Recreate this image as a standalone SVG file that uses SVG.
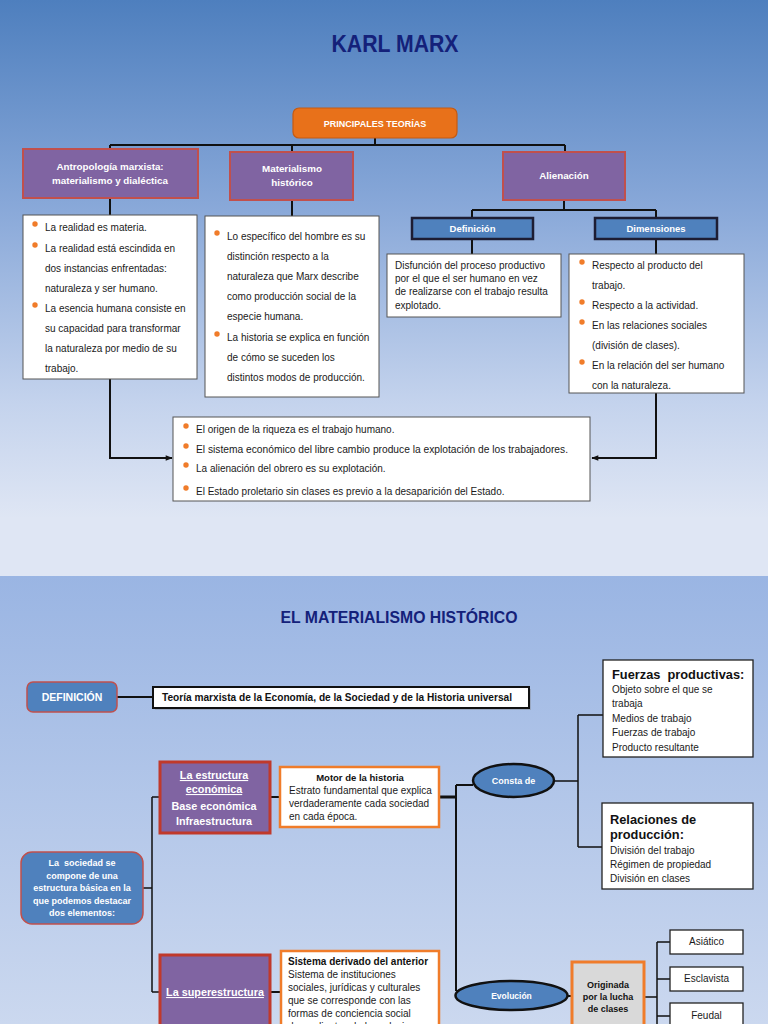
<svg xmlns="http://www.w3.org/2000/svg" width="768" height="1024" viewBox="0 0 768 1024">
<defs>
<linearGradient id="bg1" x1="0" y1="0" x2="0" y2="1">
<stop offset="0" stop-color="#4e7fbe"/>
<stop offset="0.35" stop-color="#87a7d8"/>
<stop offset="0.7" stop-color="#c4d3ed"/>
<stop offset="0.9" stop-color="#dfe6f4"/>
<stop offset="1" stop-color="#dfe6f4"/>
</linearGradient>
<linearGradient id="bg2" x1="0" y1="0" x2="0" y2="1">
<stop offset="0" stop-color="#9ab5e3"/>
<stop offset="1" stop-color="#cbd8ef"/>
</linearGradient>
<marker id="arr" viewBox="0 0 10 10" refX="9" refY="5" markerWidth="8" markerHeight="7" orient="auto" markerUnits="userSpaceOnUse">
<path d="M0,1 L10,5 L0,9 z" fill="#111"/>
</marker>
<style>
text{font-family:"Liberation Sans",Arial,sans-serif;}
.title{font-weight:bold;fill:#14217a;text-anchor:middle;}
.purple{fill:#8064a2;stroke:#c0504d;stroke-width:2;}
.purple2{fill:#8064a2;stroke:#c0392b;stroke-width:3;}
.tbox{fill:#fff;stroke:#555;stroke-width:1;}
.obox{fill:#fff;stroke:#f07c2a;stroke-width:2.5;}
.kbox{fill:#fff;stroke:#222;stroke-width:1.3;}
.bluebox{fill:#4f81bd;stroke:#1d1d33;stroke-width:2.5;}
.blueround{fill:#4f81bd;stroke:#c0504d;stroke-width:1.5;}
.wb{font-weight:bold;fill:#fff;text-anchor:middle;}
.body{font-size:10px;fill:#1a1a1a;}
.bd{font-weight:bold;fill:#111;}
.bul{fill:#f07c2a;}
.ln{stroke:#111;stroke-width:2;fill:none;}
.lnt{stroke:#111;stroke-width:1.5;fill:none;}
.lnk{stroke:#111;stroke-width:3;fill:none;}
</style>
</defs>

<!-- backgrounds -->
<rect x="0" y="0" width="768" height="576" fill="url(#bg1)"/>
<rect x="0" y="576" width="768" height="448" fill="url(#bg2)"/>

<!-- ============ SLIDE 1 ============ -->
<text class="title" x="395" y="52" font-size="23" textLength="127" lengthAdjust="spacingAndGlyphs">KARL MARX</text>

<g id="connectors1">
<path class="ln" d="M375,138 V145 M110,145 H565 M110,145 V149 M292,145 V152 M565,145 V152"/>
<path class="ln" d="M110,198 V215 M292,200 V216"/>
<path class="ln" d="M564,200 V210 M472,210 H656 M472,210 V218 M656,210 V218"/>
<path class="ln" d="M472,239 V254 M656,239 V254"/>
<path class="ln" d="M110,379 V458 H172" marker-end="url(#arr)"/>
<path class="ln" d="M656,393 V458 H592" marker-end="url(#arr)"/>
</g>

<g id="principales">
<rect x="293" y="108" width="164" height="30" rx="6" fill="#e8711a" stroke="#c55a11" stroke-width="1.2"/>
<text class="wb" x="375" y="127" font-size="9">PRINCIPALES TEORÍAS</text>
</g>

<g id="antropologia">
<rect class="purple" x="23" y="149" width="175" height="49"/>
<text class="wb" x="110" y="170" font-size="9.8">Antropología marxista:</text>
<text class="wb" x="110" y="184" font-size="9.8">materialismo y dialéctica</text>
</g>

<g id="materialismo">
<rect class="purple" x="230" y="152" width="123" height="48"/>
<text class="wb" x="292" y="172" font-size="9.8">Materialismo</text>
<text class="wb" x="292" y="186" font-size="9.8">histórico</text>
</g>

<g id="alienacion">
<rect class="purple" x="503" y="152" width="122" height="48"/>
<text class="wb" x="564" y="179" font-size="9.8">Alienación</text>
</g>

<g id="antropologia-texto">
<rect class="tbox" x="23" y="215" width="174" height="164"/>
<circle class="bul" cx="35" cy="224" r="2.7"/>
<circle class="bul" cx="35" cy="245" r="2.7"/>
<circle class="bul" cx="35" cy="305" r="2.7"/>
<text class="body" x="45" y="231">La realidad es materia.</text>
<text class="body" x="45" y="252">La realidad está escindida en</text>
<text class="body" x="45" y="272">dos instancias enfrentadas:</text>
<text class="body" x="45" y="292">naturaleza y ser humano.</text>
<text class="body" x="45" y="312">La esencia humana consiste en</text>
<text class="body" x="45" y="332">su capacidad para transformar</text>
<text class="body" x="45" y="352">la naturaleza por medio de su</text>
<text class="body" x="45" y="372">trabajo.</text>
</g>

<g id="materialismo-texto">
<rect class="tbox" x="205" y="216" width="174" height="181"/>
<circle class="bul" cx="217" cy="233" r="2.7"/>
<circle class="bul" cx="217" cy="334" r="2.7"/>
<text class="body" x="227" y="240">Lo específico del hombre es su</text>
<text class="body" x="227" y="260">distinción respecto a la</text>
<text class="body" x="227" y="280">naturaleza que Marx describe</text>
<text class="body" x="227" y="300">como producción social de la</text>
<text class="body" x="227" y="320">especie humana.</text>
<text class="body" x="227" y="341">La historia se explica en función</text>
<text class="body" x="227" y="361">de cómo se suceden los</text>
<text class="body" x="227" y="381">distintos modos de producción.</text>
</g>

<g id="definicion">
<rect class="bluebox" x="412" y="218" width="121" height="21"/>
<text class="wb" x="472.5" y="232" font-size="9.5">Definición</text>
</g>

<g id="dimensiones">
<rect class="bluebox" x="595" y="218" width="122" height="21"/>
<text class="wb" x="656" y="232" font-size="9.5">Dimensiones</text>
</g>

<g id="definicion-texto">
<rect class="tbox" x="387" y="254" width="174" height="63"/>
<text class="body" x="395" y="269">Disfunción del proceso productivo</text>
<text class="body" x="395" y="282">por el que el ser humano en vez</text>
<text class="body" x="395" y="295">de realizarse con el trabajo resulta</text>
<text class="body" x="395" y="309">explotado.</text>
</g>

<g id="dimensiones-texto">
<rect class="tbox" x="569" y="254" width="175" height="139"/>
<circle class="bul" cx="582" cy="262" r="2.7"/>
<circle class="bul" cx="582" cy="302" r="2.7"/>
<circle class="bul" cx="582" cy="322" r="2.7"/>
<circle class="bul" cx="582" cy="362" r="2.7"/>
<text class="body" x="592" y="269">Respecto al producto del</text>
<text class="body" x="592" y="289">trabajo.</text>
<text class="body" x="592" y="309">Respecto a la actividad.</text>
<text class="body" x="592" y="329">En las relaciones sociales</text>
<text class="body" x="592" y="349">(división de clases).</text>
<text class="body" x="592" y="369">En la relación del ser humano</text>
<text class="body" x="592" y="389">con la naturaleza.</text>
</g>

<g id="conclusiones">
<rect class="tbox" x="173" y="417" width="417" height="84"/>
<circle class="bul" cx="186" cy="426" r="2.7"/>
<circle class="bul" cx="186" cy="446" r="2.7"/>
<circle class="bul" cx="186" cy="465" r="2.7"/>
<circle class="bul" cx="186" cy="488" r="2.7"/>
<text class="body" x="196" y="433">El origen de la riqueza es el trabajo humano.</text>
<text class="body" x="196" y="453" textLength="372" lengthAdjust="spacingAndGlyphs">El sistema económico del libre cambio produce la explotación de los trabajadores.</text>
<text class="body" x="196" y="472">La alienación del obrero es su explotación.</text>
<text class="body" x="196" y="495">El Estado proletario sin clases es previo a la desaparición del Estado.</text>
</g>

<!-- ============ SLIDE 2 ============ -->
<text class="title" x="399" y="623" font-size="16.5" textLength="237" lengthAdjust="spacingAndGlyphs">EL MATERIALISMO HISTÓRICO</text>

<g id="connectors2">
<path class="ln" d="M117,697 H153"/>
<path class="lnt" d="M143,888 H152 M152,797 V992 M152,797 H160 M152,992 H160"/>
<path class="ln" d="M270,797 H280 M270,992 H281"/>
<path class="lnk" d="M439,797 H457"/>
<path class="ln" d="M456,785 V991 M456,785 H473"/>
<path class="lnt" d="M554,781 H578 M578,715 V847 M578,715 H603 M578,847 H602"/>
<path class="ln" d="M567,996 H572"/>
<path class="lnt" d="M644,997 H657 M657,942 V1024 M657,942 H670 M657,979 H670 M657,1016 H670"/>
</g>

<g id="definicion2">
<rect class="blueround" x="27" y="682" width="90" height="30" rx="6"/>
<text class="wb" x="72" y="701" font-size="10.5">DEFINICIÓN</text>
</g>

<g id="definicion2-texto">
<rect x="155" y="689" width="376" height="21" fill="#7f7f7f" opacity="0.35"/>
<rect x="153" y="687" width="376" height="21" fill="#fff" stroke="#111" stroke-width="2"/>
<text class="bd" x="162" y="701" font-size="10.5" textLength="350" lengthAdjust="spacingAndGlyphs">Teoría marxista de la Economía, de la Sociedad y de la Historia universal</text>
</g>

<g id="sociedad">
<rect class="blueround" x="21" y="852" width="122" height="72" rx="11"/>
<text class="wb" x="82" y="866" font-size="9" xml:space="preserve">La  sociedad se</text>
<text class="wb" x="82" y="879" font-size="9">compone de una</text>
<text class="wb" x="82" y="891" font-size="9">estructura básica en la</text>
<text class="wb" x="82" y="904" font-size="9">que podemos destacar</text>
<text class="wb" x="82" y="916" font-size="9">dos elementos:</text>
</g>

<g id="estructura">
<rect class="purple2" x="160" y="762" width="110" height="71"/>
<text class="wb" x="214" y="779" font-size="10.8" text-decoration="underline">La estructura</text>
<text class="wb" x="214" y="793" font-size="10.8" text-decoration="underline">económica</text>
<text class="wb" x="214" y="810" font-size="10.8">Base económica</text>
<text class="wb" x="214" y="825" font-size="10.8">Infraestructura</text>
</g>

<g id="motor">
<rect class="obox" x="280" y="767" width="159" height="60"/>
<text class="bd" x="360" y="781" font-size="9.5" text-anchor="middle">Motor de la historia</text>
<text class="body" x="289" y="794" font-size="9.8">Estrato fundamental que explica</text>
<text class="body" x="289" y="807" font-size="9.8">verdaderamente cada sociedad</text>
<text class="body" x="289" y="820" font-size="9.8">en cada época.</text>
</g>

<g id="consta">
<ellipse cx="513.5" cy="780.5" rx="40.5" ry="16.5" fill="#4f81bd" stroke="#111" stroke-width="2.5"/>
<text class="wb" x="513.5" y="784" font-size="9">Consta de</text>
</g>

<g id="fuerzas">
<rect class="kbox" x="603" y="660" width="150" height="97"/>
<text class="bd" x="612" y="679" font-size="12.8" xml:space="preserve">Fuerzas  productivas:</text>
<text class="body" x="612" y="693" font-size="10.8">Objeto sobre el que se</text>
<text class="body" x="612" y="707" font-size="10.8">trabaja</text>
<text class="body" x="612" y="722" font-size="10.8">Medios de trabajo</text>
<text class="body" x="612" y="736" font-size="10.8">Fuerzas de trabajo</text>
<text class="body" x="612" y="751" font-size="10.8">Producto resultante</text>
</g>

<g id="relaciones">
<rect class="kbox" x="602" y="803" width="151" height="86"/>
<text class="bd" x="610" y="824" font-size="12.8">Relaciones de</text>
<text class="bd" x="610" y="839" font-size="12.8">producción:</text>
<text class="body" x="610" y="854" font-size="10.8">División del trabajo</text>
<text class="body" x="610" y="868" font-size="10.8">Régimen de propiedad</text>
<text class="body" x="610" y="882" font-size="10.8">División en clases</text>
</g>

<g id="superestructura">
<rect class="purple2" x="160" y="955" width="110" height="80"/>
<text class="wb" x="215" y="996" font-size="10.8" text-decoration="underline">La superestructura</text>
</g>

<g id="sistema">
<rect class="obox" x="281" y="951" width="158" height="85"/>
<text class="bd" x="288" y="965" font-size="10">Sistema derivado del anterior</text>
<text class="body" x="288" y="978" font-size="9.8">Sistema de instituciones</text>
<text class="body" x="288" y="991" font-size="9.8">sociales, jurídicas y culturales</text>
<text class="body" x="288" y="1004" font-size="9.8">que se corresponde con las</text>
<text class="body" x="288" y="1017" font-size="9.8">formas de conciencia social</text>
<text class="body" x="288" y="1030" font-size="9.8">dependientes de las relaciones</text>
</g>

<g id="evolucion">
<ellipse cx="511.5" cy="995.5" rx="56" ry="14.5" fill="#4f81bd" stroke="#111" stroke-width="2.5"/>
<text class="wb" x="511.5" y="999" font-size="8.5">Evolución</text>
</g>

<g id="originada">
<rect x="572" y="962" width="72" height="70" fill="#d9d9d9" stroke="#f07c2a" stroke-width="3"/>
<text class="bd" x="608" y="988" font-size="9" text-anchor="middle">Originada</text>
<text class="bd" x="608" y="1000" font-size="9" text-anchor="middle">por la lucha</text>
<text class="bd" x="608" y="1012" font-size="9" text-anchor="middle">de clases</text>
</g>

<g id="asiatico">
<rect class="kbox" x="670" y="930" width="73" height="24"/>
<text class="body" x="706.5" y="945" font-size="9.5" text-anchor="middle">Asiático</text>
</g>

<g id="esclavista">
<rect class="kbox" x="670" y="967" width="73" height="24"/>
<text class="body" x="706.5" y="982" font-size="9.5" text-anchor="middle">Esclavista</text>
</g>

<g id="feudal">
<rect class="kbox" x="670" y="1003" width="73" height="26"/>
<text class="body" x="706.5" y="1019" font-size="9.5" text-anchor="middle">Feudal</text>
</g>
</svg>
